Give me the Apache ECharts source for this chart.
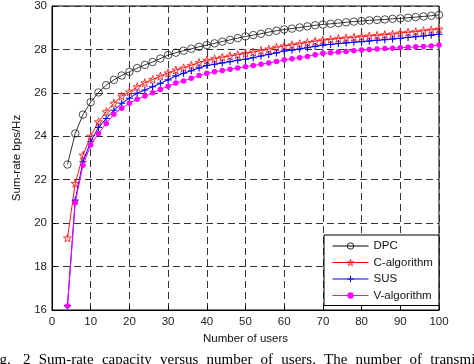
<!DOCTYPE html>
<html>
<head>
<meta charset="utf-8">
<script src="https://cdn.jsdelivr.net/npm/echarts@6/dist/echarts.min.js"></script>
<style>
html,body{margin:0;padding:0;background:#fff;}
#chart{width:474px;height:364px;}
</style>
</head>
<body>
<div id="chart"></div>
<script>
// ---- data ----
var users = [4,6,8,10,12,14,16,18,20,22,24,26,28,30,32,34,36,38,40,42,44,46,48,50,52,54,56,58,60,62,64,66,68,70,72,74,76,78,80,82,84,86,88,90,92,94,96,98,100];
var dpc = [22.70,24.13,25.00,25.57,26.02,26.35,26.60,26.80,26.97,27.14,27.29,27.42,27.58,27.74,27.85,27.94,28.03,28.12,28.20,28.28,28.36,28.44,28.52,28.60,28.66,28.72,28.80,28.86,28.92,28.96,29.01,29.06,29.11,29.15,29.18,29.21,29.25,29.28,29.31,29.34,29.36,29.38,29.41,29.43,29.46,29.49,29.52,29.55,29.59];
var cAlg = [19.32,21.83,23.13,24.00,24.67,25.13,25.52,25.85,26.05,26.28,26.47,26.62,26.77,26.92,27.05,27.15,27.27,27.40,27.50,27.57,27.64,27.70,27.76,27.82,27.88,27.95,28.02,28.10,28.16,28.21,28.26,28.32,28.38,28.43,28.46,28.50,28.53,28.56,28.59,28.62,28.65,28.68,28.71,28.76,28.79,28.82,28.86,28.90,28.94];
var sus = [16.20,21.06,22.83,23.75,24.41,24.82,25.20,25.52,25.75,25.98,26.13,26.28,26.44,26.60,26.78,26.90,27.02,27.15,27.26,27.32,27.38,27.44,27.50,27.55,27.62,27.70,27.77,27.84,27.93,27.97,28.02,28.08,28.14,28.20,28.23,28.27,28.30,28.33,28.36,28.39,28.42,28.45,28.48,28.51,28.55,28.59,28.62,28.66,28.70];
var vAlg = [16.18,20.94,22.67,23.60,24.13,24.59,25.02,25.29,25.52,25.70,25.85,26.00,26.16,26.31,26.45,26.55,26.67,26.80,26.90,26.97,27.03,27.09,27.15,27.20,27.26,27.32,27.38,27.44,27.52,27.57,27.62,27.68,27.75,27.82,27.85,27.88,27.91,27.94,27.97,28.00,28.02,28.04,28.06,28.08,28.10,28.12,28.14,28.16,28.20];
var seriesNames = ['DPC','C-algorithm','SUS','V-algorithm'];
var xTicks = [0,10,20,30,40,50,60,70,80,90,100];
var yTicks = [16,18,20,22,24,26,28,30];
var xTitle = 'Number of users';
var yTitle = 'Sum-rate bps/Hz';
var captionWords = ['Fig.','2','Sum-rate','capacity','versus','number','of','users.','The','number','of','transmit'];

function pairs(xs, ys){ return xs.map(function(x,i){ return [x, ys[i]]; }); }

var FONT = "'Liberation Sans', Arial, sans-serif";
var starPath = 'path://M50 0 L61 35 L98 35 L68 57 L79 91 L50 70 L21 91 L32 57 L2 35 L39 35 Z';
var plusPath = 'path://M5 0 L5 10 M0 5 L10 5';

var chart = echarts.init(document.getElementById('chart'), null, {renderer:'canvas'});

var captionX = [-13, 23, 38.7, 101.9, 160.1, 206.6, 260.6, 281.3, 324.1, 355.6, 409.6, 430.3];
var graphics = captionWords.map(function(w, i){
  return {type:'text', left: captionX[i], top: 353, silent:true,
    style:{text:w, font:"15px 'Liberation Serif', 'Times New Roman', serif", fill:'#000'}};
});

var option = {
  animation:false,
  backgroundColor:'#fff',
  grid:{left:52, right:35, top:6, bottom:54, show:true, borderColor:'#000', borderWidth:1, backgroundColor:'transparent'},
  xAxis:{type:'value', min:xTicks[0], max:xTicks[xTicks.length-1], interval:10,
    name:xTitle, nameLocation:'middle', nameGap:18,
    nameTextStyle:{fontFamily:FONT, fontSize:11.5, color:'#111'},
    axisLine:{show:true, lineStyle:{color:'#000', width:1}},
    axisTick:{show:true, inside:true, length:4, lineStyle:{color:'#000'}},
    axisLabel:{fontFamily:FONT, fontSize:11.5, color:'#222', margin:6},
    splitLine:{show:true, lineStyle:{color:'#333', width:1, type:[7,4]}}},
  yAxis:{type:'value', min:yTicks[0], max:yTicks[yTicks.length-1], interval:2,
    name:yTitle, nameLocation:'middle', nameGap:19, nameRotate:90,
    nameTextStyle:{fontFamily:FONT, fontSize:11.5, color:'#111'},
    axisLine:{show:true, lineStyle:{color:'#000', width:1}},
    axisTick:{show:true, inside:true, length:4, lineStyle:{color:'#000'}},
    axisLabel:{fontFamily:FONT, fontSize:11.5, color:'#222', margin:5},
    splitLine:{show:true, lineStyle:{color:'#333', width:1, type:[7,4]}}},
  legend:{orient:'vertical', left:324, top:235, data:seriesNames,
    backgroundColor:'#fff', borderColor:'#000', borderWidth:1, borderRadius:0,
    padding:[5,6,4,8], itemWidth:36, itemHeight:8, itemGap:4.5,
    lineStyle:{width:1}, itemStyle:{borderWidth:1},
    textStyle:{fontFamily:FONT, fontSize:11.5, color:'#111'}},
  series:[
    {name:seriesNames[0], type:'line', data:pairs(users,dpc), symbol:'circle', symbolSize:7.5,
      color:'#000', lineStyle:{color:'#000', width:0.8}, itemStyle:{color:'none', borderColor:'#222', borderWidth:0.8}, z:2},
    {name:seriesNames[1], type:'line', data:pairs(users,cAlg), symbol:starPath, symbolSize:8,
      color:'#ff0000', lineStyle:{color:'#ff0000', width:0.9}, itemStyle:{color:'none', borderColor:'#ff2020', borderWidth:0.9}, z:3},
    {name:seriesNames[2], type:'line', data:pairs(users,sus), symbol:plusPath, symbolSize:7,
      color:'#0000ff', lineStyle:{color:'#0000ff', width:1}, itemStyle:{color:'#0000ff', borderColor:'#0000ff', borderWidth:1.1}, z:4},
    {name:seriesNames[3], type:'line', data:pairs(users,vAlg), symbol:'circle', symbolSize:5.5,
      color:'#ff00ff', lineStyle:{color:'#ff00ff', width:1}, itemStyle:{color:'#ff00ff'}, z:5}
  ],
  graphic:graphics
};
chart.setOption(option);
</script>
</body>
</html>
